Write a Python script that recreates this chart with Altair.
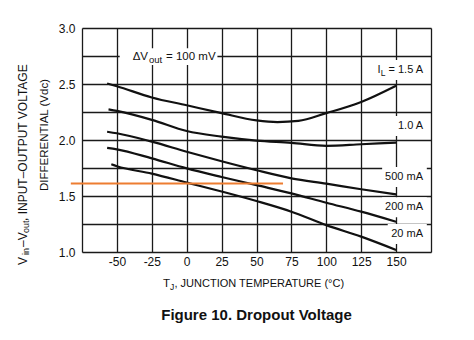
import altair as alt
import pandas as pd

# ---- data ----
temps_15 = [-57, -50, -25, 0, 25, 50, 65, 80, 100, 125, 150]
v_15 = [2.505, 2.48, 2.38, 2.31, 2.24, 2.175, 2.16, 2.17, 2.24, 2.34, 2.485]
temps_10 = [-56, -50, -25, 0, 25, 50, 75, 100, 125, 150]
v_10 = [2.274, 2.26, 2.18, 2.08, 2.03, 1.995, 1.975, 1.948, 1.962, 1.976]
temps_500 = [-57, -50, -25, 0, 25, 50, 75, 100, 125, 150]
v_500 = [2.074, 2.06, 1.985, 1.895, 1.81, 1.73, 1.658, 1.61, 1.56, 1.515]
temps_200 = [-57, -50, -25, 0, 25, 50, 75, 100, 125, 150]
v_200 = [1.93, 1.917, 1.836, 1.747, 1.67, 1.597, 1.524, 1.44, 1.36, 1.27]
temps_20 = [-54, -50, -25, 0, 25, 50, 75, 100, 125, 150]
v_20 = [1.783, 1.766, 1.70, 1.62, 1.54, 1.455, 1.36, 1.24, 1.137, 1.018]

orange_t = [-83, 69]
orange_v = [1.612, 1.612]

series_names = ["1.5 A", "1.0 A", "500 mA", "200 mA", "20 mA"]
label_texts = ["1.0 A", "500 mA", "200 mA", "20 mA"]
label_v = [2.125, 1.67, 1.40, 1.16]
label_box_left = [145, 140, 140, 144]

x_ticks = [-75, -50, -25, 0, 25, 50, 75, 100, 125, 150, 175]
y_ticks = [1.0, 1.25, 1.5, 1.75, 2.0, 2.25, 2.5, 2.75, 3.0]

FONT = "Liberation Sans, Arial, Helvetica"
INK = "#111111"

rows = []
for name, ts, vs in zip(series_names, [temps_15, temps_10, temps_500, temps_200, temps_20],
                        [v_15, v_10, v_500, v_200, v_20]):
    for t, v in zip(ts, vs):
        rows.append({"T": t, "V": v, "series": name})
curves_df = pd.DataFrame(rows)
orange_df = pd.DataFrame({"T": orange_t, "V": orange_v})

label_x = 169.3
labels_df = pd.DataFrame({"text": label_texts, "T": [label_x] * 4, "V": label_v})
boxes_df = pd.DataFrame({
    "x1": label_box_left + [136, -48],
    "x2": [172] * 5 + [22],
    "y1": [v - 0.089 for v in label_v] + [2.536, 2.67],
    "y2": [v + 0.089 for v in label_v] + [2.714, 2.82],
})

xscale = alt.Scale(domain=[-75, 175], nice=False, zero=False)
yscale = alt.Scale(domain=[1.0, 3.0], nice=False, zero=False)

xaxis = alt.Axis(values=x_ticks, tickCount=len(x_ticks), grid=True, ticks=False, domain=False,
                 title=None,
                 labelExpr="datum.value < -60 || datum.value > 160 ? '' : '' + datum.value",
                 labelFont=FONT, labelFontSize=12, labelColor=INK, labelPadding=4,
                 labelOverlap=False, labelFlush=False, gridColor="#1a1a1a", gridWidth=1.3)
yaxis = alt.Axis(values=y_ticks, tickCount=len(y_ticks), grid=True, ticks=False, domain=False,
                 title=None,
                 labelExpr="datum.value * 4 % 2 == 0 ? format(datum.value, '.1f') : ''",
                 labelFont=FONT, labelFontSize=12, labelColor=INK, labelPadding=7,
                 labelOverlap=False, labelFlush=False, gridColor="#1a1a1a", gridWidth=1.3)

boxes = alt.Chart(boxes_df).mark_rect(fill="white").encode(
    x=alt.X("x1:Q", scale=xscale, axis=xaxis), x2="x2:Q",
    y=alt.Y("y1:Q", scale=yscale, axis=yaxis), y2="y2:Q")

curves = alt.Chart(curves_df).mark_line(color=INK, strokeWidth=2.2, interpolate="monotone").encode(
    x=alt.X("T:Q", scale=xscale), y=alt.Y("V:Q", scale=yscale), detail="series:N")

orange = alt.Chart(orange_df).mark_line(color="#ED7D31", strokeWidth=2).encode(
    x=alt.X("T:Q", scale=xscale), y=alt.Y("V:Q", scale=yscale))

labels = alt.Chart(labels_df).mark_text(font=FONT, fontSize=11, color=INK, align="right",
                                        baseline="middle").encode(
    x=alt.X("T:Q", scale=xscale), y=alt.Y("V:Q", scale=yscale), text="text:N")

one = pd.DataFrame({"T": [label_x], "V": [2.625]})


def piece(df, text, size=11, align="left", dx=0, dy=0):
    return alt.Chart(df).mark_text(text=text, font=FONT, fontSize=size, color=INK, align=align,
                                   baseline="middle", dx=dx, dy=dy).encode(
        x=alt.X("T:Q", scale=xscale), y=alt.Y("V:Q", scale=yscale))


il = [piece(one, "= 1.5 A", align="right"),
      piece(one, "L", size=8.5, align="right", dx=-37.5, dy=3),
      piece(one, "I", align="right", dx=-42.5)]

dv = pd.DataFrame({"T": [-27.7], "V": [2.74]})
dvl = [piece(dv, "\u0394V", size=11.5, align="right"),
       piece(dv, "out", size=9.5, dx=1, dy=3),
       piece(dv, "= 100 mV", size=11.5, dx=18)]


# axis titles (with subscripts) as text, positioned relative to the plot area
def ttl(text, x, y, size=11, align="left", angle=0, dx=0, dy=0):
    kw = dict(text=text, font=FONT, fontSize=size, color=INK, align=align,
              baseline="middle", dx=dx, dy=dy)
    if angle:
        kw["angle"] = angle
    return alt.Chart(one).mark_text(**kw).encode(x=alt.value(x), y=alt.value(y))


xt = [ttl("T", 81, 256, size=11.5),
      ttl("J", 81, 256, size=8.5, dx=7, dy=3),
      ttl(", JUNCTION TEMPERATURE (\u00b0C)", 81, 256, dx=11.5)]
yt = [ttl("V", -59, 237, size=12, angle=270),
      ttl("in", -59, 237, size=9, angle=270, dx=10, dy=3),
      ttl("\u2013V", -59, 237, size=12, angle=270, dx=18),
      ttl("out", -59, 237, size=9, angle=270, dx=32, dy=3),
      ttl(", INPUT\u2013OUTPUT VOLTAGE", -59, 237, size=12, angle=270, dx=44),
      ttl("DIFFERENTIAL (Vdc)", -37, 107, size=11.5, angle=270, align="center")]

chart = alt.layer(boxes, curves, orange, labels, *il, *dvl, *xt, *yt).properties(
    width=349, height=224,
    autosize=alt.AutoSizeParams(type="none"),
    padding={"left": 82, "top": 28, "right": 43, "bottom": 88},
    title=alt.TitleParams("Figure 10. Dropout Voltage", orient="bottom", anchor="middle",
                          font="Liberation Sans, Arial", fontSize=15, fontWeight="bold",
                          color=INK, offset=16, baseline="top"),
).configure_view(stroke="black", strokeWidth=1.5).configure(background="white")

chart.save("out.html", embed_options={"renderer": "svg", "actions": False})
